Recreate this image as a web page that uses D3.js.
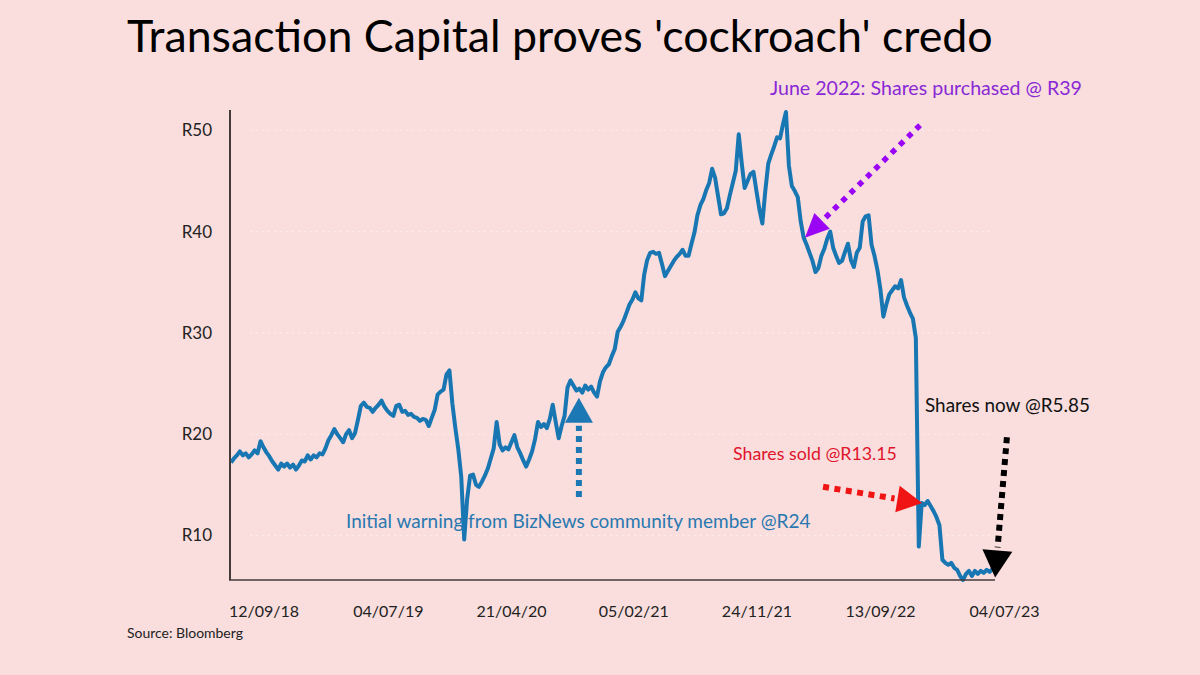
<!DOCTYPE html>
<html>
<head>
<meta charset="utf-8">
<script src="https://cdn.jsdelivr.net/npm/d3@7"></script>
<style>
  body { margin: 0; background: #f9dedd; }
  svg { display: block; font-family: Lato, "Open Sans", sans-serif; }
</style>
</head>
<body>
<svg id="chart" width="1200" height="675"></svg>
<script>
// ---------------- DATA ----------------
const titleText = "Transaction Capital proves 'cockroach' credo";
const sourceText = "Source: Bloomberg";

// Weekly closing prices (Rand), first observation and step
const startDate = "2018-06-27";
const stepDays = 7;
const prices = [
  17.2,17.6,17.9,18.3,17.9,18.1,17.7,18.0,18.4,18.1,
  19.3,18.7,18.2,17.8,17.3,16.9,16.5,17.1,16.8,17.1,
  16.7,17.0,16.5,16.9,17.4,17.3,17.9,17.5,17.9,17.7,
  18.1,18.0,18.6,19.4,19.9,20.5,20.0,19.6,19.2,20.0,
  20.4,19.6,20.1,21.4,22.8,23.1,22.7,22.6,22.2,22.6,
  22.9,23.3,22.7,22.3,22.0,21.8,22.8,22.9,22.2,22.3,
  21.9,22.0,21.7,21.6,21.3,21.5,21.4,20.8,21.6,22.4,
  23.9,24.2,24.4,25.9,26.3,23.0,20.6,18.5,15.8,9.6,
  13.6,15.9,16.0,15.0,14.8,15.3,15.9,16.6,17.6,18.6,
  21.2,19.0,18.4,18.7,18.5,19.2,19.9,18.7,18.1,17.4,
  16.8,17.5,18.3,19.5,21.2,20.7,21.0,20.6,21.5,22.9,
  21.2,19.6,20.8,21.8,24.6,25.3,24.8,24.3,24.5,24.1,
  24.8,24.4,24.7,24.1,23.7,25.2,26.1,26.6,26.9,27.7,
  28.4,30.1,30.6,31.2,32.0,32.8,33.3,34.0,33.4,33.2,
  35.8,37.2,37.9,38.0,37.8,37.9,36.8,35.6,36.1,36.6,
  37.1,37.5,37.8,38.2,37.6,37.6,38.8,39.9,41.6,42.6,
  43.2,44.1,44.8,46.2,45.3,43.5,41.7,41.8,42.3,43.6,
  44.8,46.0,49.6,46.8,44.3,45.0,45.7,45.9,44.0,42.2,
  40.8,44.0,46.7,47.6,48.4,49.3,49.2,50.6,51.8,46.5,
  44.5,44.0,43.4,41.0,39.4,38.7,37.9,37.1,36.0,36.4,
  37.6,38.3,39.3,40.0,38.4,37.6,36.9,37.1,38.0,38.8,
  37.2,36.5,37.9,38.4,41.0,41.5,41.6,38.7,37.6,36.2,
  34.3,31.6,32.8,33.8,34.2,34.6,34.4,35.2,33.5,32.7,
  32.0,31.4,29.5,8.9,13.2,13.0,13.4,12.9,12.4,11.8,
  11.0,7.6,7.3,7.1,7.3,6.8,6.6,6.0,5.6,6.2,
  6.5,6.0,6.5,6.2,6.5,6.3,6.6,6.4,6.7
];

const xDomain = ["2018-06-27", "2023-06-08"];
const yDomain = [5.6, 52];
const xTickDates = ["2018-09-12","2019-07-04","2020-04-21","2021-02-05","2021-11-24","2022-09-13","2023-07-04"];
const yTicks = [10, 20, 30, 40, 50];

// Annotation arrows in data space: [tailDate, tailValue, tipDate, tipValue]
const purchaseArrow = ["2022-12-17", 50.5, "2022-03-19", 39.4];
const warningArrow  = ["2020-09-29", 13.8, "2020-09-29", 23.6];
const soldArrow     = ["2022-05-01", 14.8, "2022-12-22", 13.2];
const nowArrow      = ["2023-07-11", 19.7, "2023-06-13", 5.85];

const purchaseText = "June 2022: Shares purchased @ R39";
const warningText  = "Initial warning from BizNews community member @R24";
const soldText     = "Shares sold @R13.15";
const nowText      = "Shares now @R5.85";

// ---------------- CHART ----------------
const parse = d3.timeParse("%Y-%m-%d");
const fmt = d3.timeFormat("%d/%m/%y");
const t0 = parse(startDate);
const series = prices.map((v, i) => ({ date: d3.timeDay.offset(t0, i * stepDays), v }));

const svg = d3.select("#chart");
svg.append("rect").attr("width", 1200).attr("height", 675).attr("fill", "#f9dedd");

const x = d3.scaleTime().domain(xDomain.map(parse)).range([231, 993]);
const y = d3.scaleLinear().domain(yDomain).range([580, 110]);

// faint gridlines
svg.append("g").selectAll("line").data(yTicks).join("line")
  .attr("x1", 250).attr("x2", 990)
  .attr("y1", d => y(d)).attr("y2", d => y(d))
  .attr("stroke", "#fdeeee").attr("stroke-width", 1).attr("stroke-dasharray", "2,4");

// y-axis labels
const yAxis = d3.axisLeft(y).tickValues(yTicks).tickSize(0).tickPadding(18).tickFormat(d => "R" + d);
const gy = svg.append("g").attr("transform", "translate(230,0)").call(yAxis);
gy.select(".domain").remove();
gy.selectAll("text").attr("font-family", "Lato, sans-serif").attr("font-size", 17).attr("fill", "#222");

// x-axis labels
const xAxis = d3.axisBottom(x).tickValues(xTickDates.map(parse)).tickSize(0).tickFormat(fmt);
const gx = svg.append("g").attr("transform", "translate(0,580)").call(xAxis);
gx.select(".domain").remove();
gx.selectAll("text").attr("font-family", "Lato, sans-serif").attr("font-size", 16)
  .attr("fill", "#222").attr("dy", null).attr("y", 37);

// price line
svg.append("path").datum(series)
  .attr("fill", "none").attr("stroke", "#1877b3").attr("stroke-width", 4)
  .attr("stroke-linejoin", "round")
  .attr("d", d3.line().x(d => x(d.date)).y(d => y(d.v)));

// axis lines
svg.append("line").attr("x1", 230).attr("x2", 230).attr("y1", y(yDomain[1])).attr("y2", y(yDomain[0]))
  .attr("stroke", "#433a3a").attr("stroke-width", 2);
svg.append("line").attr("x1", 229).attr("x2", 995).attr("y1", y(yDomain[0])).attr("y2", y(yDomain[0]))
  .attr("stroke", "#433a3a").attr("stroke-width", 1.6);

// arrows
function arrow(spec, color, headLen, headW, dotW, dash) {
  const x1 = x(parse(spec[0])), y1 = y(spec[1]), x2 = x(parse(spec[2])), y2 = y(spec[3]);
  const dx = x2 - x1, dy = y2 - y1, L = Math.hypot(dx, dy), ux = dx / L, uy = dy / L;
  const bx = x2 - ux * headLen, by = y2 - uy * headLen;
  const g = svg.append("g");
  g.append("line").attr("x1", x1).attr("y1", y1).attr("x2", bx - ux * 3).attr("y2", by - uy * 3)
    .attr("stroke", color).attr("stroke-width", dotW).attr("stroke-dasharray", dash);
  const px = -uy, py = ux;
  g.append("polygon").attr("fill", color).attr("points", [
    [x2, y2], [bx + px * headW / 2, by + py * headW / 2], [bx - px * headW / 2, by - py * headW / 2]
  ].map(p => p.join(",")).join(" "));
}
arrow(purchaseArrow, "#9a05f5", 24, 22, 5.5, "5.5,6");
arrow(warningArrow, "#1c78b4", 25, 28, 6, "6,5");
arrow(soldArrow, "#f01414", 25, 27, 6, "6,5.5");
arrow(nowArrow, "#000000", 27, 30, 6, "6,5");

// text helper fitting target width
function label(txt, x0, yb, anchor, color, size, targetW) {
  const t = svg.append("text").attr("x", x0).attr("y", yb).attr("text-anchor", anchor)
    .attr("font-family", "Lato, sans-serif").attr("font-size", size).attr("fill", color).text(txt);
  if (targetW) {
    const w = t.node().getComputedTextLength();
    const s = Math.max(size * 0.85, Math.min(size * 1.15, size * targetW / w));
    t.attr("font-size", s);
  }
  return t;
}
label(titleText, 127, 52, "start", "#000", 46, 866);
label(sourceText, 127, 638, "start", "#222", 13, 116);
label(purchaseText, 926, 95, "middle", "#8a28d6", 18, 312);
label(warningText, 346, 528, "start", "#2a78b0", 18, 465);
label(soldText, 733, 460, "start", "#e0142c", 17, 164);
label(nowText, 925, 412, "start", "#111", 17.5, 165);
</script>
</body>
</html>
